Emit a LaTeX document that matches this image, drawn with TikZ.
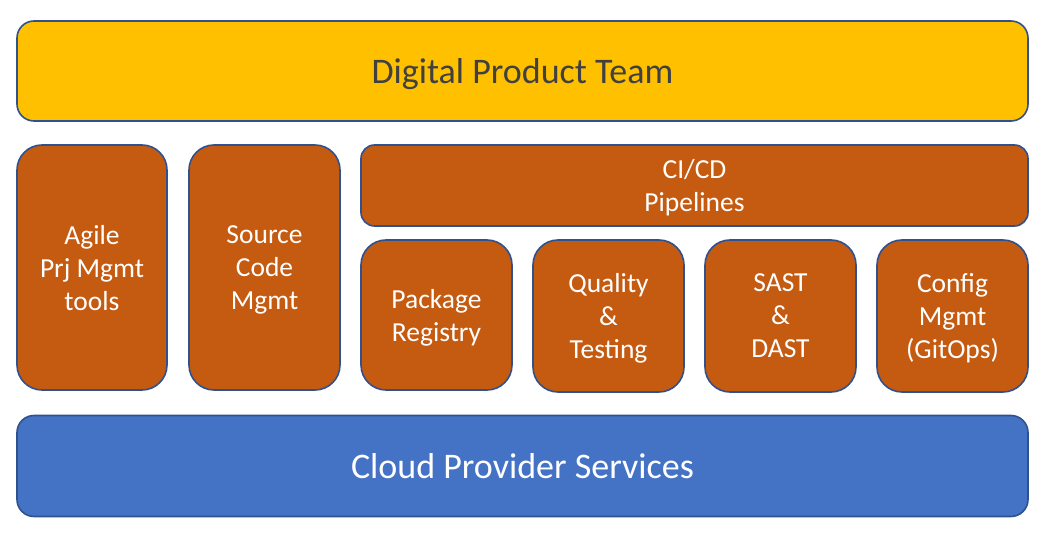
\documentclass[tikz,border=0pt]{standalone}
\usepackage{fontspec}
\setmainfont{Carlito}
\usetikzlibrary{positioning}

\definecolor{teamyellow}{HTML}{FFC000}
\definecolor{toolorange}{HTML}{C55A11}
\definecolor{cloudblue}{HTML}{4472C4}
\definecolor{edgeblue}{HTML}{2F528F}
\definecolor{darktext}{HTML}{404040}

\tikzset{
  box/.style={draw=edgeblue,line width=1.6pt,align=center,inner sep=0pt,text=white,
    text depth=0pt,font=\fontsize{27.5}{33}\selectfont},
  bigbox/.style={box,font=\fontsize{36}{42}\selectfont},
}

\begin{document}
\begin{tikzpicture}[x=1pt,y=-1pt]
\useasboundingbox (0,0) rectangle (1045,537);
\node[bigbox,fill=teamyellow,text=darktext,rounded corners=17pt,minimum width=1011pt,minimum height=100pt] (dpt) at (522.5,71) {Digital Product Team};
\node[box,fill=toolorange,rounded corners=25pt,minimum width=150pt,minimum height=245pt] (agile) at (92,267.5) {Agile\\Prj Mgmt\\tools};
\node[box,fill=toolorange,rounded corners=25pt,minimum width=151pt,minimum height=245pt] (scm) at (264.5,267.5) {Source\\Code\\Mgmt};
\node[box,fill=toolorange,rounded corners=13.5pt,minimum width=667pt,minimum height=81pt] (cicd) at (694.5,185.5) {CI/CD\\Pipelines};
\node[box,fill=toolorange,rounded corners=25pt,minimum width=151pt,minimum height=150pt] (pkg) at (436.5,315) {Package\\Registry};
\node[box,fill=toolorange,rounded corners=25pt,minimum width=151pt,minimum height=152pt] (qual) at (608.5,316) {Quality\\\&\\Testing};
\node[box,fill=toolorange,rounded corners=25pt,minimum width=151pt,minimum height=152pt] (sast) at (780.5,316) {SAST\\\&\\DAST};
\node[box,fill=toolorange,rounded corners=25pt,minimum width=151pt,minimum height=152pt] (cfg) at (952.5,316) {Config\\Mgmt\\(GitOps)};
\node[bigbox,fill=cloudblue,rounded corners=17pt,minimum width=1011pt,minimum height=101pt] (cloud) at (522.5,466) {Cloud Provider Services};
\end{tikzpicture}
\end{document}
